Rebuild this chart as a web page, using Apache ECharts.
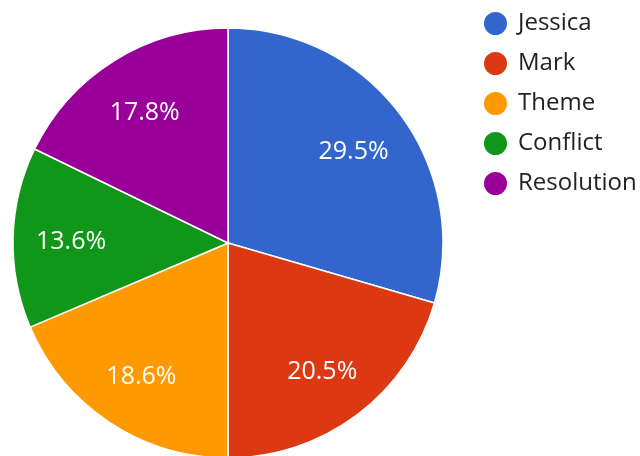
<!DOCTYPE html>
<html><head><meta charset="utf-8">
<script src="https://cdn.jsdelivr.net/npm/echarts@6/dist/echarts.min.js"></script>
<style>html,body{margin:0;padding:0;background:#fff}#c{width:640px;height:456px}</style>
</head><body><div id="c"></div>
<script>
const categories = ["Jessica", "Mark", "Theme", "Conflict", "Resolution"];
const values = [29.5, 20.5, 18.6, 13.6, 17.8];
const colors = ["#3366cc", "#dc3912", "#ff9900", "#109618", "#990099"];

const chart = echarts.init(document.getElementById('c'), null, {renderer: 'canvas'});
const data = categories.map((n, i) => ({name: n, value: values[i], itemStyle: {color: colors[i]}}));
const labelData = categories.map((n, i) => ({name: n, value: values[i]}));
chart.setOption({
  animation: false,
  legend: {
    orient: 'vertical', left: 477, top: 5,
    icon: 'circle', itemWidth: 25, itemHeight: 25, itemGap: 13,
    data: categories,
    textStyle: {fontFamily: 'Open Sans', fontSize: 24, color: '#222', padding: [0, 0, 0, 5]}
  },
  series: [
    {
      type: 'pie', center: [228, 243], radius: [0, 215], startAngle: 90, clockwise: true,
      data: data, label: {show: false}, labelLine: {show: false},
      itemStyle: {borderColor: '#fff', borderWidth: 1.5},
      emphasis: {disabled: true}
    },
    {
      type: 'pie', center: [228, 246], radius: [0, 308], startAngle: 90, clockwise: true, silent: true,
      data: labelData, legendHoverLink: false,
      itemStyle: {color: 'rgba(0,0,0,0)'},
      label: {show: true, position: 'inside', color: '#fff', fontFamily: 'Open Sans', fontSize: 25,
        formatter: p => p.value.toFixed(1) + '%'},
      labelLine: {show: false}, emphasis: {disabled: true}
    }
  ]
});
</script></body></html>
